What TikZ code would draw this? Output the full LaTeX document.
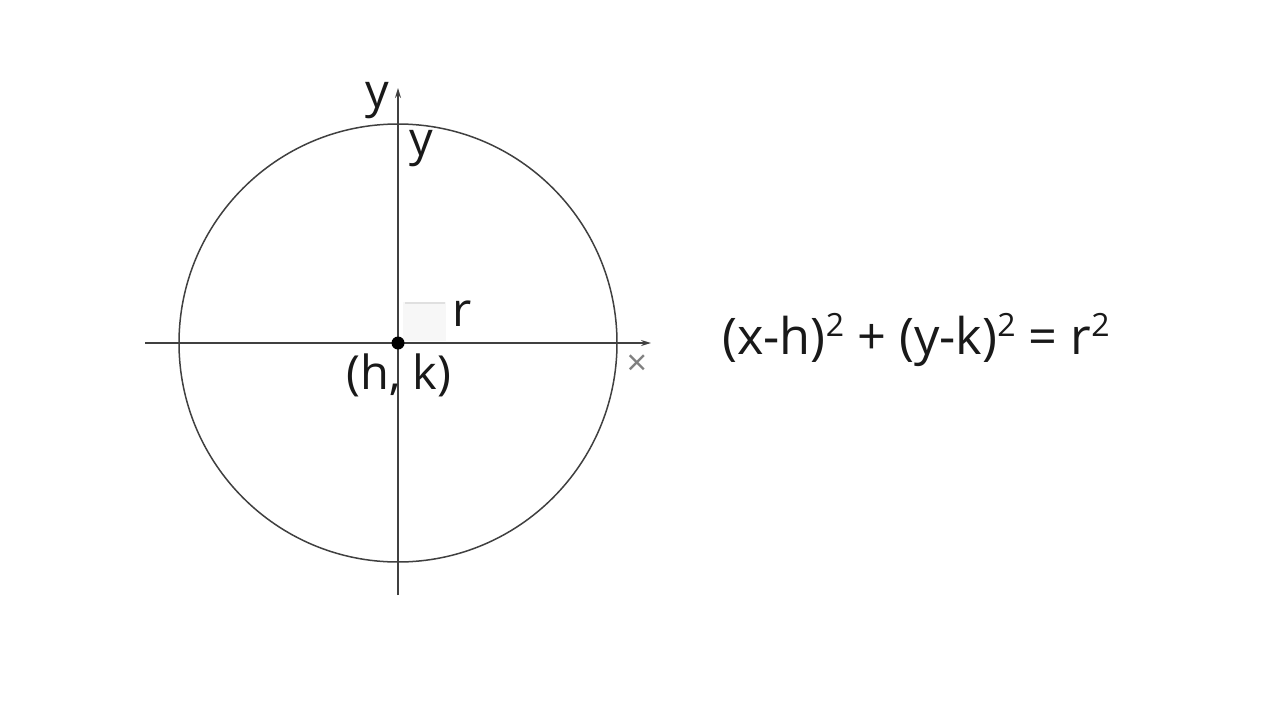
\documentclass[tikz,border=0pt]{standalone}
\usepackage{fontspec}
\setmainfont{Open Sans}
\usetikzlibrary{arrows.meta}
\newcommand{\mysq}{\raisebox{0.36em}{\fontsize{32}{32}\selectfont 2}}
\begin{document}
\begin{tikzpicture}[x=1pt,y=-1pt,
  axis/.style={draw=black!75,line width=1.4pt,-{Stealth[length=10pt,width=6pt]}},
  lbl/.style={inner sep=0pt,font=\fontsize{47}{52}\selectfont,text=black!90},
  curve/.style={draw=black!75,line width=1.5pt}]
\useasboundingbox (0,0) rectangle (1280,720);
\fill[white] (0,0) rectangle (1280,720);
\coordinate (c) at (398,343);
\coordinate (xs) at (145,343);
\coordinate (xe) at (651,343);
\coordinate (ys) at (398,595);
\coordinate (ye) at (398,88);
\fill[black!3] (403,302) rectangle (446,341);
\draw[black!12,line width=1.2pt] (405,303) -- (445,303);
\draw[curve] (c) circle[radius=219];
\draw[axis] (xs) -- (xe);
\draw[axis] (ys) -- (ye);
\fill[black] (c) circle[radius=6.5];
\node[lbl] (ylab) at (377,101) {y};
\node[lbl] (ylab2) at (421,149) {y};
\node[lbl] (rlab) at (462,314) {r};
\node[lbl] (hk) at (399,375) {(h, k)};
\node[inner sep=0pt,font=\fontsize{36}{40}\selectfont,text=black!50] (xlab) at (637,365) {×};
\node[lbl,font=\fontsize{50.5}{55}\selectfont] (eq) at (916,340) {(x-h)\mysq{} + (y-k)\mysq{} = r\mysq};
\end{tikzpicture}
\end{document}
